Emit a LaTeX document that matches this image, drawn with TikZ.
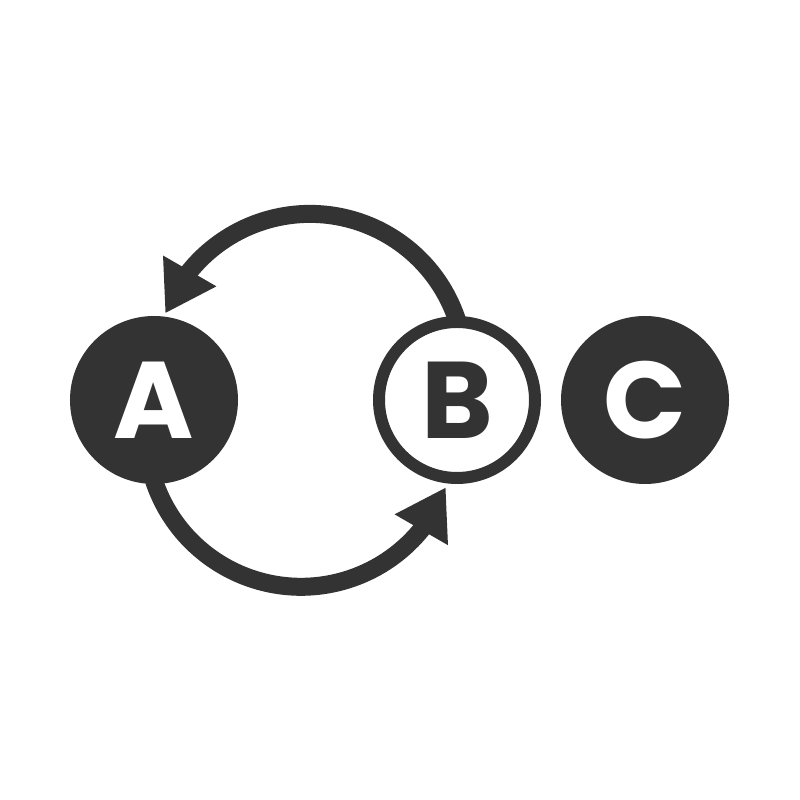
\documentclass[tikz,border=0pt]{standalone}
\usepackage{fontspec}
\setmainfont{Poppins}
\usetikzlibrary{arrows.meta,bending}
\definecolor{darkgray}{HTML}{333333}

\begin{document}
\begin{tikzpicture}[x=0.1mm,y=0.1mm]
        % Define styles
        \tikzset{
            filled/.style={circle, fill=darkgray, text=white, minimum size=16.8mm, inner sep=0pt, font=\fontsize{31}{31}\selectfont\bfseries},
            ring/.style={circle, draw=darkgray, line width=1.2mm, fill=white, text=darkgray, minimum size=15.6mm, inner sep=0pt, font=\fontsize{31}{31}\selectfont\bfseries},
            arrow/.style={draw=darkgray, line width=1.8mm, -{Triangle[length=4.9mm, width=5.8mm]}}
        }
        \useasboundingbox[fill=white] (-400,-400) rectangle (400,400);

        % Nodes
        \node[filled] (A) at (-246,0) {A};
        \node[ring] (B) at (57,0) {B};
        \node[filled] (C) at (245,0) {C};

        % Arrows
        \draw[arrow] ([yshift=-0.4mm]B.north) arc[start angle=18.4, end angle=159, radius=155];
        \draw[arrow] ([yshift=0.4mm]A.south) arc[start angle=198.4, end angle=339, radius=155];
    \end{tikzpicture}
\end{document}
